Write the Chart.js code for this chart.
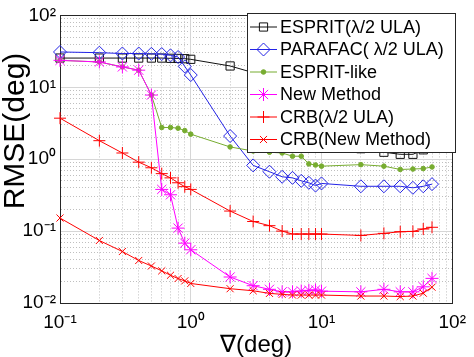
<!DOCTYPE html>
<html>
<head>
<meta charset="utf-8">
<script src="https://cdn.jsdelivr.net/npm/chart.js@4"></script>
<style>
html,body{margin:0;padding:0;background:#fff;}
#wrap{width:474px;height:357px;position:relative;}
</style>
</head>
<body>
<div id="wrap"><canvas id="c"></canvas></div>
<script>
// ---- data ----
const xValues = [0.1,0.2,0.3,0.4,0.5,0.6,0.7,0.8,0.9,1,2,3,4,5,6,7,8,9,10,20,30,40,50,60,70];
const espritULA = [25.5,25.5,25.5,25.5,25.5,25.5,25.3,25.2,25,24.5,19.8,16,12,8.5,6,4.5,3.5,2.8,2.3,1.4,1.25,1.17,1.17,1.35,1.45];
const parafacULA = [31,30.3,29.5,29.5,29.2,29,27.8,26.4,19.5,14.8,2.1,0.82,0.67,0.57,0.55,0.5,0.47,0.43,0.46,0.42,0.42,0.42,0.40,0.42,0.45];
const espritLike = [23.7,22.5,19.2,17.3,7.8,2.76,2.76,2.7,2.5,2.23,1.48,1.3,1.25,1.22,1.1,1.1,0.86,0.83,0.8,0.84,0.8,0.72,0.73,0.74,0.78];
const newMethod = [23.7,22.5,19.2,17.3,7.8,0.38,0.32,0.11,0.068,0.055,0.023,0.0174,0.0155,0.0143,0.0143,0.0147,0.015,0.0152,0.0146,0.0143,0.0155,0.0143,0.0143,0.0168,0.022];
const crbULA = [3.72,1.81,1.22,0.91,0.76,0.63,0.55,0.47,0.415,0.38,0.19,0.136,0.119,0.10,0.091,0.091,0.091,0.091,0.091,0.087,0.093,0.098,0.099,0.107,0.113];
const crbNew = [0.152,0.074,0.052,0.039,0.0327,0.028,0.0243,0.0219,0.0203,0.0187,0.0158,0.0148,0.0136,0.0132,0.0129,0.0129,0.0129,0.0129,0.0129,0.0125,0.0125,0.0123,0.0125,0.0137,0.0166];

const seriesNames = ['ESPRIT(\u03BB/2 ULA)','PARAFAC( \u03BB/2 ULA)','ESPRIT-like','New Method','CRB(\u03BB/2 ULA)','CRB(New Method)'];
const xTickValues = [0.1,1,10,100];
const xTickLabels = ['10\u207B\u00B9','10\u2070','10\u00B9','10\u00B2'];
const yTickValues = [0.01,0.1,1,10,100];
const yTickLabels = ['10\u207B\u00B2','10\u207B\u00B9','10\u2070','10\u00B9','10\u00B2'];
const xTitle = '\u2207(deg)';
const yTitle = 'RMSE(deg)';

// ---- styles ----
const styles = [
  {color:'#111111', pointStyle:'rect', radius:5.8, fill:'rgba(0,0,0,0)'},
  {color:'#2323e6', pointStyle:'rectRot', radius:6.5, fill:'rgba(0,0,0,0)'},
  {color:'#77ac30', pointStyle:'circle', radius:2.3, fill:'#77ac30'},
  {color:'#ff00ff', pointStyle:'star', radius:6.5, fill:'rgba(0,0,0,0)'},
  {color:'#ff0000', pointStyle:'cross', radius:6, fill:'rgba(0,0,0,0)'},
  {color:'#ff0000', pointStyle:'crossRot', radius:5, fill:'rgba(0,0,0,0)'}
];
const allSeries = [espritULA, parafacULA, espritLike, newMethod, crbULA, crbNew];
const FONT = '"Liberation Sans", Arial, Helvetica, sans-serif';

const datasets = allSeries.map((vals, i) => ({
  label: seriesNames[i],
  data: xValues.map((x, k) => ({x: x, y: vals[k]})),
  borderColor: styles[i].color,
  backgroundColor: styles[i].fill,
  pointBorderColor: styles[i].color,
  pointBackgroundColor: styles[i].fill,
  pointStyle: styles[i].pointStyle,
  pointRadius: styles[i].radius,
  pointHoverRadius: styles[i].radius,
  pointBorderWidth: 1,
  borderWidth: 1,
  tension: 0,
  fill: false,
  clip: false,
  order: 6 - i
}));

function logTicks(lo, hi) {
  const t = [];
  for (let e = Math.round(Math.log10(lo)); e < Math.round(Math.log10(hi)); e++) {
    for (let m = 1; m < 10; m++) t.push({value: m * Math.pow(10, e)});
  }
  t.push({value: hi});
  return t;
}
function isDecade(v) {
  const l = Math.log10(v);
  return Math.abs(l - Math.round(l)) < 1e-6;
}
function labelFor(v, vals, labels) {
  for (let i = 0; i < vals.length; i++) if (Math.abs(Math.log10(v) - Math.log10(vals[i])) < 1e-6) return labels[i];
  return '';
}

const legendPlugin = {
  id: 'boxLegend',
  afterDatasetsDraw(chart) {
    const ctx = chart.ctx;
    const bx = 247, by = 13, bw = 208, bh = 139;
    ctx.save();
    ctx.fillStyle = '#ffffff';
    ctx.fillRect(bx, by, bw, bh);
    ctx.strokeStyle = '#262626';
    ctx.lineWidth = 1;
    ctx.strokeRect(bx + 0.5, by + 0.5, bw, bh);
    const rowY = [27, 49.5, 72, 94.5, 117, 139.5];
    chart.data.datasets.forEach((ds, i) => {
      const y = rowY[i];
      ctx.strokeStyle = ds.borderColor;
      ctx.lineWidth = 1;
      ctx.beginPath(); ctx.moveTo(250, y); ctx.lineTo(277, y); ctx.stroke();
      ctx.fillStyle = ds.pointBackgroundColor;
      ctx.strokeStyle = ds.pointBorderColor;
      Chart.helpers.drawPoint(ctx, {pointStyle: ds.pointStyle, radius: ds.pointRadius, borderWidth: 1, rotation: 0}, 263.5, y);
      ctx.fillStyle = '#000000';
      ctx.font = '18px ' + FONT;
      ctx.textAlign = 'left';
      ctx.textBaseline = 'middle';
      ctx.fillText(ds.label, 280, y + 1);
    });
    ctx.restore();
  },
  afterDraw(chart) {
    const ctx = chart.ctx;
    ctx.save();
    ctx.translate(16, 131);
    ctx.rotate(-Math.PI / 2);
    ctx.font = '30px ' + FONT;
    ctx.fillStyle = '#000000';
    ctx.textAlign = 'center';
    ctx.textBaseline = 'middle';
    ctx.fillText(yTitle, 0, 0);
    ctx.restore();
  }
};

new Chart(document.getElementById('c'), {
  type: 'line',
  data: {datasets: datasets},
  plugins: [legendPlugin],
  options: {
    responsive: true,
    maintainAspectRatio: false,
    animation: false,
    events: [],
    layout: {padding: {left: 0, right: 16, top: 13, bottom: 0}},
    plugins: {legend: {display: false}, tooltip: {enabled: false}, title: {display: false}},
    scales: {
      x: {
        type: 'logarithmic', position: 'bottom', min: 0.1, max: 100,
        afterBuildTicks: (s) => { s.ticks = logTicks(0.1, 100); },
        afterFit: (s) => { s.height = 54; },
        ticks: {
          autoSkip: false, maxRotation: 0, padding: 8, color: '#000000',
          font: {family: FONT, size: 19},
          callback: (v) => labelFor(v, xTickValues, xTickLabels)
        },
        grid: {
          drawTicks: false, lineWidth: 1,
          color: (c) => (c.tick && isDecade(c.tick.value)) ? 'rgba(0,0,0,0)' : '#bfbfbf'
        },
        border: {display: true, color: '#262626', width: 1, dash: [1, 2]},
        title: {display: true, text: xTitle, color: '#000000', font: {family: FONT, size: 24, lineHeight: 1.0}, padding: {top: 0, bottom: 0}}
      },
      y: {
        type: 'logarithmic', position: 'left', min: 0.01, max: 100,
        afterBuildTicks: (s) => { s.ticks = logTicks(0.01, 100); },
        afterFit: (s) => { s.width = 60; },
        ticks: {
          autoSkip: false, padding: 4, color: '#000000',
          font: {family: FONT, size: 19},
          callback: (v) => labelFor(v, yTickValues, yTickLabels)
        },
        grid: {
          drawTicks: false, lineWidth: 1,
          color: (c) => (c.tick && isDecade(c.tick.value)) ? 'rgba(0,0,0,0)' : '#bfbfbf'
        },
        border: {display: true, color: '#262626', width: 1, dash: [1, 2]},
        title: {display: false}
      },
      x2: {
        type: 'logarithmic', position: 'top', min: 0.1, max: 100,
        afterBuildTicks: (s) => { s.ticks = xTickValues.map(v => ({value: v})); },
        afterFit: (s) => { s.height = 0; },
        ticks: {display: false},
        grid: {drawTicks: false, color: '#d6d6d6', lineWidth: 1},
        border: {display: true, color: '#262626', width: 1}
      },
      y2: {
        type: 'logarithmic', position: 'right', min: 0.01, max: 100,
        afterBuildTicks: (s) => { s.ticks = yTickValues.map(v => ({value: v})); },
        afterFit: (s) => { s.width = 0; },
        ticks: {display: false},
        grid: {drawTicks: false, color: '#d6d6d6', lineWidth: 1},
        border: {display: true, color: '#262626', width: 1}
      }
    }
  }
});
</script>
</body>
</html>
